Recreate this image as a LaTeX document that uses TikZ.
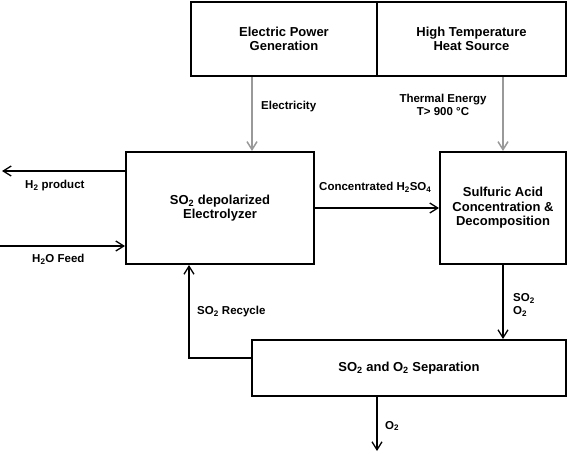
\documentclass[tikz,border=0pt]{standalone}
\usepackage{fontspec}
\setmainfont{Liberation Sans}
\usepackage{tikz}
\usetikzlibrary{arrows.meta,positioning}

\begin{document}
\begin{tikzpicture} [ x=1pt, y=-1pt, >={Straight Barb[length=8pt,width=10pt]},
    box/.style= {rectangle, draw, line width=2pt, inner sep=2pt, align=center,
    font=\bfseries\fontsize{13}{14.5}\selectfont},
    lbl/.style= {inner sep=0pt, align=left,
    font=\bfseries\fontsize{11.5}{13}\selectfont},
    con/.style={->, line width=1.3pt},
    energy/.style={->, line width=1.5pt, black!40}
    ]
    \useasboundingbox (0,0) rectangle (567,453);
    \node (n1) [box, minimum width=186pt, minimum height=74pt] at (284,39)
     {Electric Power\\ Generation};
    \node (n2) [box, minimum width=189pt, minimum height=74pt] at (471.5,39)
     {High Temperature\\ Heat Source};
    \node (n3) [box, minimum width=188pt, minimum height=112pt] at (220,208)
     {SO\textsubscript{2} depolarized\\ Electrolyzer};
    \node (n4) [box, minimum width=126pt, minimum height=112pt] at (503,208)
     {Sulfuric Acid\\ Concentration \&\\ Decomposition};
    \node (n5) [box, minimum width=314pt, minimum height=56pt] at (409,368)
     {SO\textsubscript{2} and O\textsubscript{2} Separation};

    \coordinate (h2out) at (2,171);
    \coordinate (h2oin) at (0,246);
    \coordinate (o2out) at (377,451);

    \node (t1) [lbl, anchor=west] at (261,107) {Electricity};
    \node (t2) [lbl, align=center] at (443,105) {Thermal Energy\\ T> 900 °C};
    \node (t3) [lbl, anchor=west] at (25,186) {H\textsubscript{2} product};
    \node (t4) [lbl, anchor=west] at (319,187) {Concentrated H\textsubscript{2}SO\textsubscript{4}};
    \node (t5) [lbl, anchor=west] at (32,259) {H\textsubscript{2}O Feed};
    \node (t6) [lbl, anchor=west] at (197,312) {SO\textsubscript{2} Recycle};
    \node (t7) [lbl, anchor=west] at (513,305) {SO\textsubscript{2}\\ O\textsubscript{2}};
    \node (t8) [lbl, anchor=west] at (385,426) {O\textsubscript{2}};

     \draw   [energy]  ([xshift=-32pt]n1.south) -- ([xshift=32pt]n3.north);
     \draw   [energy]  (n2.south -| n4.north) -- (n4.north);
     \draw   [con]  ([yshift=37pt]n3.west) -- (h2out);
     \draw   [con]  (h2oin) -- (h2oin -| n3.west);
     \draw   [con]  (n3) -- (n4);
     \draw   [con]  (n4.south) -- (n4.south |- n5.north);
     \draw   [con]  ([yshift=10pt]n5.west) -| ([xshift=-31pt]n3.south);
     \draw   [con]  ([xshift=-32pt]n5.south) -- (o2out);
  \end{tikzpicture}
\end{document}
